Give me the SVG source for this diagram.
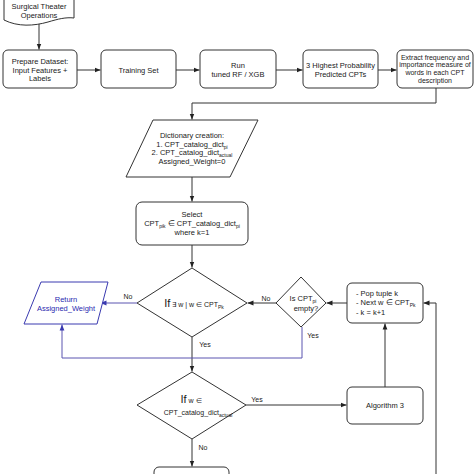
<svg xmlns="http://www.w3.org/2000/svg" width="474" height="474" viewBox="0 0 474 474">
<defs>
<style>
text{font-family:"Liberation Sans",Arial,sans-serif;font-size:7.5px;fill:#1a1a1a;text-anchor:middle}
.box{fill:#fff;stroke:#333;stroke-width:1}
.ln{fill:none;stroke:#333;stroke-width:1}
.bl{fill:none;stroke:#5a55b0;stroke-width:1}
.blt{fill:#2a2ab0}
.lbl{font-size:7px}
.sub{font-size:5px}
.big{font-size:11px}
</style>
<marker id="ah" viewBox="0 0 10 10" refX="10" refY="5" markerWidth="6" markerHeight="6" orient="auto" markerUnits="userSpaceOnUse"><path d="M0,1 L10,5 L0,9 Z" fill="#222"/></marker>
<marker id="ahb" viewBox="0 0 10 10" refX="10" refY="5" markerWidth="6" markerHeight="6" orient="auto" markerUnits="userSpaceOnUse"><path d="M0,1 L10,5 L0,9 Z" fill="#3a3ab0"/></marker>
</defs>
<rect width="474" height="474" fill="#fff"/>
<g id="connectors">
<path class="ln" d="M39,23 V49.5" marker-end="url(#ah)"/>
<path class="ln" d="M77,70 H100.5" marker-end="url(#ah)"/>
<path class="ln" d="M176,70 H199.5" marker-end="url(#ah)"/>
<path class="ln" d="M276,70 H302.5" marker-end="url(#ah)"/>
<path class="ln" d="M378,70 H396.5" marker-end="url(#ah)"/>
<path class="ln" d="M436,88 V103 H192 V119.5" marker-end="url(#ah)"/>
<path class="ln" d="M192,177 V201.5" marker-end="url(#ah)"/>
<path class="ln" d="M192,245 V267.5" marker-end="url(#ah)"/>
<path class="bl" d="M137,303 H100.5" marker-end="url(#ahb)"/>
<path class="ln" d="M192,337 V371.5" marker-end="url(#ah)"/>
<path class="bl" d="M302,327 V358 H62 V324.5" marker-end="url(#ahb)"/>
<path class="ln" d="M276,303 H247.5" marker-end="url(#ah)"/>
<path class="ln" d="M347,303 H326.5" marker-end="url(#ah)"/>
<path class="ln" d="M385,387 V323.5" marker-end="url(#ah)"/>
<path class="ln" d="M436,474 V303 H423.5" marker-end="url(#ah)"/>
<path class="ln" d="M246,405 H346.5" marker-end="url(#ah)"/>
<path class="ln" d="M192,439 V466.5" marker-end="url(#ah)"/>
<text class="lbl" x="128" y="298.5">No</text>
<text class="lbl" x="205" y="346.5">Yes</text>
<text class="lbl" x="266" y="300.5">No</text>
<text class="lbl" x="313" y="337.5">Yes</text>
<text class="lbl" x="257" y="401.5">Yes</text>
<text class="lbl" x="203" y="449.5">No</text>
</g>
<g id="surgical">
<path class="box" d="M4,-2 V20 C18,27 34,26 48,22 C58,19 66,17 74,18 V-2"/>
<text x="39" y="8.5">Surgical Theater</text>
<text x="39" y="17.5">Operations</text>
</g>
<g id="prepare">
<rect class="box" x="3" y="50" width="74" height="38" rx="5"/>
<text x="40" y="64">Prepare Dataset:</text>
<text x="40" y="72.5">Input Features +</text>
<text x="40" y="81">Labels</text>
</g>
<g id="training">
<rect class="box" x="101" y="50" width="75" height="38" rx="5"/>
<text x="138.5" y="72.5">Training Set</text>
</g>
<g id="run">
<rect class="box" x="200" y="50" width="76" height="38" rx="5"/>
<text x="238" y="67.5">Run</text>
<text x="238" y="76.5">tuned RF / XGB</text>
</g>
<g id="highest">
<rect class="box" x="303" y="50" width="75" height="38" rx="5"/>
<text x="340.5" y="67.5">3 Highest Probability</text>
<text x="340.5" y="76.5">Predicted CPTs</text>
</g>
<g id="extract">
<rect class="box" x="397" y="50" width="76" height="38" rx="5"/>
<text x="435" y="59.5" style="font-size:7px">Extract frequency and</text>
<text x="435" y="67" style="font-size:7px">importance measure of</text>
<text x="435" y="75" style="font-size:7px">words in each CPT</text>
<text x="435" y="82.5" style="font-size:7px">description</text>
</g>
<g id="dictionary">
<path class="box" d="M153,120 H258 L230,177 H126 Z"/>
<text x="192" y="137.5">Dictionary creation:</text>
<text x="192" y="146.5">1. CPT_catalog_dict<tspan class="sub" dy="2">pi</tspan></text>
<text x="192" y="155">2. CPT_catalog_dict<tspan class="sub" dy="2">actual</tspan></text>
<text x="192" y="164">Assigned_Weight=0</text>
</g>
<g id="select">
<rect class="box" x="136" y="202" width="112" height="43" rx="6"/>
<text x="192" y="217">Select</text>
<text x="192" y="226">CPT<tspan class="sub" dy="2">pik</tspan><tspan dy="-2"> ∈ CPT_catalog_dict</tspan><tspan class="sub" dy="2">pi</tspan></text>
<text x="192" y="235">where k=1</text>
</g>
<g id="ifexists">
<path class="box" d="M192,268 L247,303 L192,337 L137,303 Z"/>
<text x="194" y="306.5"><tspan class="big">If</tspan><tspan style="font-size:7px"> ∃ w  | w ∈ CPT</tspan><tspan class="sub" dy="2">Pk</tspan></text>
</g>
<g id="return">
<path d="M41,282 H108 L97,324 H24 Z" fill="#fff" stroke="#3a3ab0" stroke-width="1"/>
<text class="blt" x="66" y="301.5">Return</text>
<text class="blt" x="66" y="310.5">Assigned_Weight</text>
</g>
<g id="isempty">
<path class="box" d="M301,277 L326,303 L301,327 L276,303 Z"/>
<text x="303" y="300.5">Is CPT<tspan class="sub" dy="2">pi</tspan></text>
<text x="306" y="310.5">empty?</text>
</g>
<g id="pop">
<rect class="box" x="347" y="283" width="76" height="40" rx="5"/>
<text x="356" y="295.5" style="text-anchor:start">- Pop tuple k</text>
<text x="356" y="305" style="text-anchor:start">- Next w ∈ CPT<tspan class="sub" dy="2">Pk</tspan></text>
<text x="356" y="314.5" style="text-anchor:start">- k = k+1</text>
</g>
<g id="algorithm3">
<rect class="box" x="347" y="387" width="76" height="37" rx="5"/>
<text x="385" y="408">Algorithm 3</text>
</g>
<g id="ifactual">
<path class="box" d="M192,372 L246,405 L192,439 L137,405 Z"/>
<text x="191" y="403"><tspan class="big">If</tspan><tspan style="font-size:7px"> w ∈</tspan></text>
<text x="198" y="414.5" style="font-size:7px">CPT_catalog_dict<tspan class="sub" dy="2">actual</tspan></text>
</g>
<g id="bottombox">
<rect class="box" x="154" y="467" width="75" height="20" rx="5"/>
</g>
</svg>
